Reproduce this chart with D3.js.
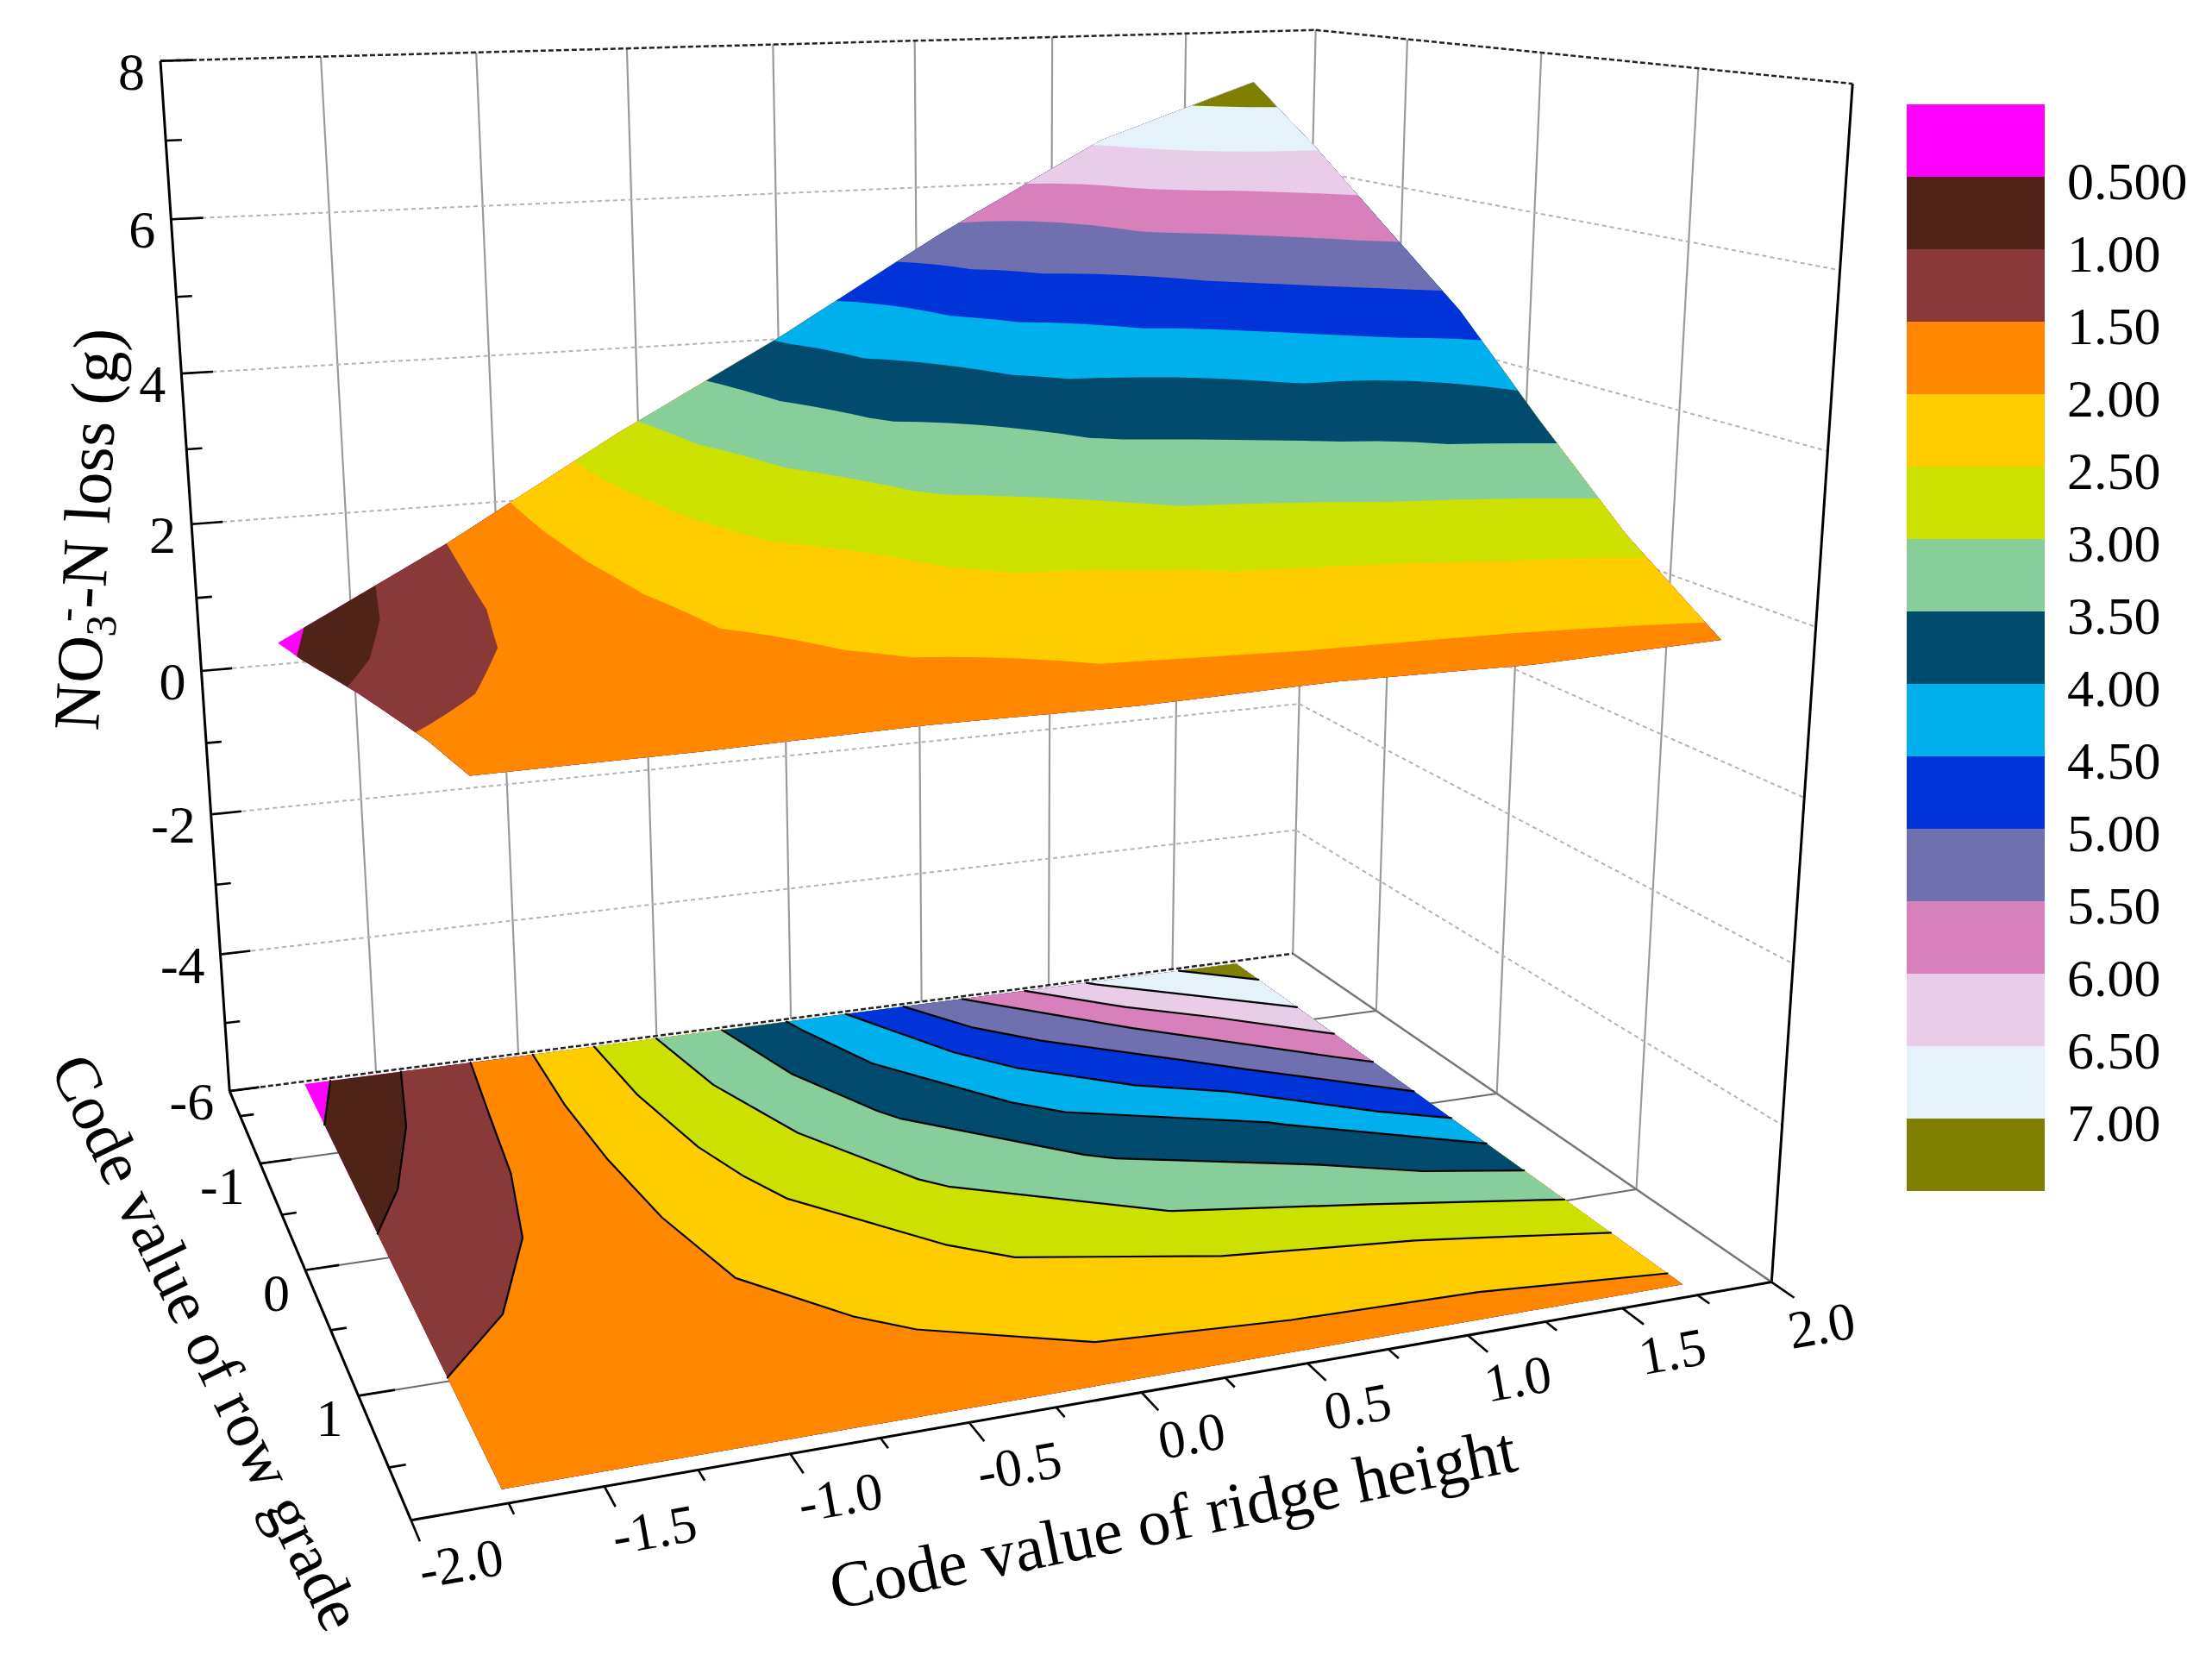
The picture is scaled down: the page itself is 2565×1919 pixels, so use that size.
<!DOCTYPE html>
<html>
<head>
<meta charset="utf-8">
<script src="https://d3js.org/d3.v7.min.js"></script>
<style>
  body { margin: 0; background: #ffffff; }
  text { font-family: "Liberation Serif", "Times New Roman", serif; fill: #000; }
</style>
</head>
<body>
<div id="chart"></div>
<script>
// grid of the response surface: ridge height (x) and row grade (y) code values
const ridgeCodes = [-1.75, -1.17, -0.58, 0, 0.58, 1.17, 1.75];
const rowCodes = [-1.75, -1.17, -0.58, 0, 0.58, 1.17, 1.75];
// NO3--N loss (g), one row per row-grade value (back row first)
const lossRows = [
  [0.32, 1.51, 2.85, 4.05, 5.36, 6.56, 7.30],
  [0.55, 1.59, 2.76, 3.79, 4.75, 5.59, 6.52],
  [0.83, 1.63, 2.61, 3.44, 4.17, 4.79, 5.65],
  [1.10, 1.67, 2.41, 3.08, 3.57, 3.93, 4.80],
  [1.34, 1.74, 2.18, 2.62, 3.01, 3.30, 3.72],
  [1.58, 1.73, 1.93, 2.22, 2.29, 2.42, 2.68],
  [1.75, 1.76, 1.80, 1.78, 1.83, 1.80, 1.87]
];
const levels = [0.5, 1.0, 1.5, 2.0, 2.5, 3.0, 3.5, 4.0, 4.5, 5.0, 5.5, 6.0, 6.5, 7.0];
const levelLabels = ["0.500", "1.00", "1.50", "2.00", "2.50", "3.00", "3.50", "4.00",
  "4.50", "5.00", "5.50", "6.00", "6.50", "7.00"];
const bandColors = ["#ff00ff", "#4f2416", "#893a38", "#ff8800", "#ffcc00", "#cce100",
  "#88ce9a", "#004b6e", "#00b0ec", "#0033d8", "#7070b0", "#d880bc", "#e8cce8",
  "#e6f2fa", "#808000"];

const ridgeTicks = [-2, -1.5, -1, -0.5, 0, 0.5, 1, 1.5, 2];
const ridgeTickLabels = ["-2.0", "-1.5", "-1.0", "-0.5", "0.0", "0.5", "1.0", "1.5", "2.0"];
const ridgeMinor = [-1.75, -1.25, -0.75, -0.25, 0.25, 0.75, 1.25, 1.75];
const rowTicks = [-1, 0, 1];
const rowTickLabels = ["-1", "0", "1"];
const rowMinor = [-1.5, -0.5, 0.5, 1.5];
const zTicks = [-6, -4, -2, 0, 2, 4, 6, 8];
const zMinor = [-5, -3, -1, 1, 3, 5, 7];

const W = 2565, H = 1919;
const xDom = [-2, 2], yDom = [-1.78, 1.84], zDom = [-6, 8];

const xn = d3.scaleLinear().domain(xDom).range([-1, 1]);
const yn = d3.scaleLinear().domain(yDom).range([-1, 1]);
const zn = d3.scaleLinear().domain(zDom).range([-1, 1]);
const un = d3.scaleLinear().domain([0, W]).range([-W / 2000, W / 2000]);
const vn = d3.scaleLinear().domain([0, H]).range([-H / 2000, H / 2000]);

// where the box corners and a few ticks sit in the picture; used to fit the camera
const Y0 = yDom[0], Y1 = yDom[1];
const anchors = [
  [[-2, Y0, 8], [187, 72]], [[-2, Y0, -6], [266, 1263]],
  [[2, Y0, 8], [1522, 35]], [[2, Y0, -6], [1500, 1107]],
  [[2, Y1, 8], [2144, 96]], [[2, Y1, -6], [2052, 1488]],
  [[-2, Y1, -6], [474, 1760]],
  [[-2, Y0, 4], [211, 432]], [[-2, Y0, 0], [234, 775]], [[-2, Y0, -4], [255, 1102]],
  [[-1, Y0, 8], [551, 62]], [[0, Y0, 8], [894, 52]], [[1, Y0, 8], [1219, 43]],
  [[2, -1, 8], [1635, 46]], [[2, 0, 8], [1790, 61]], [[2, 1, 8], [1975, 79]],
  [[-1, Y1, -6], [916, 1683]], [[0, Y1, -6], [1323, 1612]], [[1, Y1, -6], [1703, 1546]],
  [[-2, -1, -6], [303, 1352]], [[-2, 0, -6], [355, 1477]], [[-2, 1, -6], [417, 1627]]
];

function fitCamera(list) {
  const rows = [], rhs = [];
  list.forEach(([[X, Y, Z], [u, v]]) => {
    const a = xn(X), b = yn(Y), c = zn(Z), uu = un(u), vv = vn(v);
    rows.push([a, b, c, 1, 0, 0, 0, 0, -uu * a, -uu * b, -uu * c]); rhs.push(uu);
    rows.push([0, 0, 0, 0, a, b, c, 1, -vv * a, -vv * b, -vv * c]); rhs.push(vv);
  });
  const n = 11;
  const M = d3.range(n).map(i => d3.range(n + 1).map(j =>
    j === n ? d3.sum(rows, (r, k) => r[i] * rhs[k]) : d3.sum(rows, r => r[i] * r[j])));
  for (let c = 0; c < n; c++) {
    let p = c;
    for (let r = c + 1; r < n; r++) if (Math.abs(M[r][c]) > Math.abs(M[p][c])) p = r;
    [M[c], M[p]] = [M[p], M[c]];
    for (let r = 0; r < n; r++) {
      if (r === c) continue;
      const f = M[r][c] / M[c][c];
      for (let k = c; k <= n; k++) M[r][k] -= f * M[c][k];
    }
  }
  return M.map((r, i) => r[n] / r[i]);
}
const cam = fitCamera(anchors);

function project([X, Y, Z]) {
  const a = xn(X), b = yn(Y), c = zn(Z);
  const w = cam[8] * a + cam[9] * b + cam[10] * c + 1;
  const u = (cam[0] * a + cam[1] * b + cam[2] * c + cam[3]) / w;
  const v = (cam[4] * a + cam[5] * b + cam[6] * c + cam[7]) / w;
  return [un.invert(u), vn.invert(v)];
}
const pt = p => project(p).map(v => v.toFixed(1)).join(",");
const seg = (a, b) => `M${pt(a)}L${pt(b)}`;

const svg = d3.select("#chart").append("svg")
  .attr("width", W).attr("height", H).attr("viewBox", [0, 0, W, H]);
svg.append("rect").attr("width", W).attr("height", H).attr("fill", "#fff");

// ---- walls ----
const gWall = svg.append("g").attr("fill", "none");
const wallVert = ridgeTicks.filter(x => x > -2).map(x => seg([x, Y0, -6], [x, Y0, 8]))
  .concat(rowTicks.map(y => seg([2, y, -6], [2, y, 8])));
gWall.append("path").attr("d", wallVert.join("")).attr("stroke", "#9a9a9a").attr("stroke-width", 2.2);
const wallHor = zTicks.filter(z => z > -6 && z < 8)
  .map(z => seg([-2, Y0, z], [2, Y0, z]) + seg([2, Y0, z], [2, Y1, z]));
gWall.append("path").attr("d", wallHor.join("")).attr("stroke", "#b4b4b4")
  .attr("stroke-width", 2).attr("stroke-dasharray", "5,4");
gWall.append("path").attr("d", seg([-2, Y0, 8], [2, Y0, 8]) + seg([2, Y0, 8], [2, Y1, 8]))
  .attr("stroke", "#222").attr("stroke-width", 2.5).attr("stroke-dasharray", "6,3");
gWall.append("path").attr("d", seg([2, Y1, -6], [2, Y1, 8]))
  .attr("stroke", "#000").attr("stroke-width", 3);
// floor grid
gWall.append("path").attr("d", rowTicks.map(y => seg([-2, y, -6], [2, y, -6])).join(""))
  .attr("stroke", "#6a6a6a").attr("stroke-width", 2);

// ---- contour geometry ----
const nx = ridgeCodes.length, ny = rowCodes.length;
const values = lossRows.flat();
const gx = d3.scaleLinear().domain(d3.range(nx)).range(ridgeCodes);
const gy = d3.scaleLinear().domain(d3.range(ny)).range(rowCodes);
const bands = d3.contours().size([nx, ny]).thresholds(levels)(values);

const clampX = d3.scaleLinear().domain([0.5, nx - 0.5]).range([0, nx - 1]).clamp(true);
const clampY = d3.scaleLinear().domain([0.5, ny - 0.5]).range([0, ny - 1]).clamp(true);
const toGrid = p => [clampX(p[0]), clampY(p[1])];

function lossAt(i, j) {
  const i0 = Math.min(Math.floor(i), nx - 2), j0 = Math.min(Math.floor(j), ny - 2);
  const fx = i - i0, fy = j - j0;
  const v = (a, b) => lossRows[b][a];
  return v(i0, j0) * (1 - fx) * (1 - fy) + v(i0 + 1, j0) * fx * (1 - fy)
    + v(i0, j0 + 1) * (1 - fx) * fy + v(i0 + 1, j0 + 1) * fx * fy;
}

function densify(ring, step) {
  const r = ring.slice();
  const f = r[0], l = r[r.length - 1];
  if (f[0] !== l[0] || f[1] !== l[1]) r.push(f);
  const out = [];
  for (let k = 0; k < r.length - 1; k++) {
    const a = r[k], b = r[k + 1];
    const n = Math.max(1, Math.ceil(Math.hypot(b[0] - a[0], b[1] - a[1]) / step));
    for (let s = 0; s < n; s++) out.push([a[0] + (b[0] - a[0]) * s / n, a[1] + (b[1] - a[1]) * s / n]);
  }
  return out;
}

const baseRing = [[0, 0], [nx - 1, 0], [nx - 1, ny - 1], [0, ny - 1], [0, 0]];
const bandRings = [[[baseRing]]].concat(bands.map(b =>
  b.coordinates.map(poly => poly.map(ring => ring.map(toGrid)))));

function ringPath(ring, zOf) {
  return "M" + ring.map(([i, j]) => pt([gx(i), gy(j), zOf(i, j)])).join("L") + "Z";
}

// ---- floor contour map ----
const gFloor = svg.append("g");
bandRings.forEach((polys, k) => {
  const d = polys.map(poly => poly.map(r => ringPath(densify(r, 1), () => -6)).join("")).join("");
  if (d) gFloor.append("path").attr("d", d).attr("fill", bandColors[k]).attr("fill-rule", "evenodd");
});
const eps = 1e-6;
const sameEdge = (a, b) => (a[0] < eps && b[0] < eps) || (a[0] > nx - 1 - eps && b[0] > nx - 1 - eps)
  || (a[1] < eps && b[1] < eps) || (a[1] > ny - 1 - eps && b[1] > ny - 1 - eps);
let isoD = "";
bandRings.slice(1).forEach(polys => polys.forEach(poly => poly.forEach(ring => {
  for (let k = 1; k < ring.length; k++) {
    const a = ring[k - 1], b = ring[k];
    if (sameEdge(a, b)) continue;
    isoD += seg([gx(a[0]), gy(a[1]), -6], [gx(b[0]), gy(b[1]), -6]);
  }
})));
gFloor.append("path").attr("d", isoD).attr("fill", "none").attr("stroke", "#000")
  .attr("stroke-width", 2.2).attr("stroke-linecap", "round");

// floor edges
gFloor.append("path").attr("d", seg([-2, Y0, -6], [2, Y0, -6])).attr("fill", "none")
  .attr("stroke", "#222").attr("stroke-width", 2.5).attr("stroke-dasharray", "6,3");
gFloor.append("path").attr("d", seg([2, Y0, -6], [2, Y1, -6])).attr("fill", "none")
  .attr("stroke", "#777").attr("stroke-width", 2.5);

// ---- axes ----
const gAxis = svg.append("g").attr("fill", "none").attr("stroke", "#000").attr("stroke-width", 3);
gAxis.append("path").attr("d", seg([-2, Y0, -6], [-2, Y0, 8]) + seg([-2, Y0, -6], [-2, Y1, -6])
  + seg([-2, Y1, -6], [2, Y1, -6]));
gAxis.append("path").attr("stroke-width", 2.6).attr("d",
  zTicks.map(z => seg([-2, Y0, z], [-1.9, Y0, z])).join("")
  + zMinor.map(z => seg([-2, Y0, z], [-1.95, Y0, z])).join("")
  + rowTicks.map(y => seg([-2, y, -6], [-1.9, y, -6])).join("")
  + rowMinor.map(y => seg([-2, y, -6], [-1.955, y, -6])).join("")
  + ridgeTicks.map(x => seg([x, Y1, -6], [x, Y1 + 0.13, -6])).join("")
  + ridgeMinor.map(x => seg([x, Y1, -6], [x, Y1 + 0.07, -6])).join(""));

const gText = svg.append("g");
zTicks.forEach(z => {
  const [px, py] = project([-2, Y0, z]);
  gText.append("text").attr("x", px - 18).attr("y", py + 12).attr("text-anchor", "end")
    .attr("dominant-baseline", "central").attr("font-size", 62).text(z);
});
rowTicks.forEach((y, k) => {
  const [px, py] = project([-2, y, -6]);
  gText.append("text").attr("x", px - 18).attr("y", py + 26).attr("text-anchor", "end")
    .attr("dominant-baseline", "central").attr("font-size", 62).text(rowTickLabels[k]);
});
ridgeTicks.forEach((x, k) => {
  const [px, py] = project([x, Y1, -6]);
  gText.append("text").attr("transform", `translate(${px + 58},${py + 50}) rotate(-10)`)
    .attr("text-anchor", "middle").attr("dominant-baseline", "central")
    .attr("font-size", 62).text(ridgeTickLabels[k]);
});

// axis titles
const zTitle = gText.append("text").attr("transform", "translate(126,615) rotate(-87)")
  .attr("text-anchor", "middle").attr("font-size", 76);
zTitle.append("tspan").text("NO");
zTitle.append("tspan").attr("dy", 14).attr("font-size", 50).text("3");
zTitle.append("tspan").attr("dx", -10).attr("dy", -42).attr("font-size", 50).text("-");
zTitle.append("tspan").attr("dy", 28).text("-N loss (g)");
gText.append("text").attr("transform", "translate(1360,1760) rotate(-11.5)")
  .attr("text-anchor", "middle").attr("dominant-baseline", "central")
  .attr("font-size", 76).text("Code value of ridge height");
gText.append("text").attr("transform", "translate(240,1556) rotate(64)")
  .attr("text-anchor", "middle").attr("dominant-baseline", "central")
  .attr("font-size", 74).text("Code value of row grade");

// ---- surface ----
const gSurf = svg.append("g");
bandRings.forEach((polys, k) => {
  const d = polys.map(poly => poly.map(r => ringPath(densify(r, 0.2), lossAt)).join("")).join("");
  if (d) gSurf.append("path").attr("d", d).attr("fill", bandColors[k]).attr("fill-rule", "evenodd");
});

// ---- legend ----
const gLeg = svg.append("g");
const legX = 2211, legY = 121, legW = 160, legH = 84;
bandColors.forEach((c, k) => {
  gLeg.append("rect").attr("x", legX).attr("y", legY + k * legH)
    .attr("width", legW).attr("height", legH).attr("fill", c);
});
levelLabels.forEach((t, k) => {
  gLeg.append("text").attr("x", legX + legW + 26).attr("y", legY + (k + 1) * legH + 5)
    .attr("dominant-baseline", "central").attr("font-size", 62).text(t);
});
</script>
</body>
</html>
